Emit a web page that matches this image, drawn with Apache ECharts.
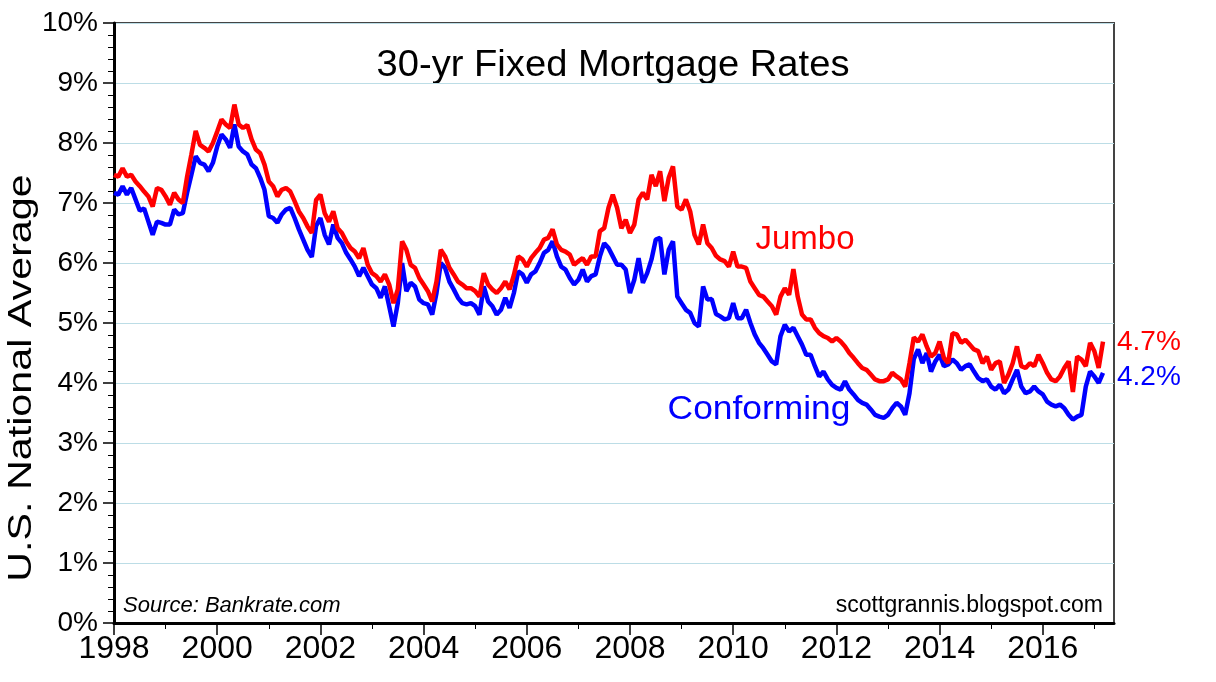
<!DOCTYPE html>
<html><head><meta charset="utf-8">
<script src="https://cdn.jsdelivr.net/npm/echarts@6/dist/echarts.min.js"></script>
<style>html,body{margin:0;padding:0;background:#fff}#c{width:1216px;height:682px}</style>
</head><body><div id="c"></div>
<script>
// Monthly readings, Jan 1998 .. Mar 2017 (percent)
const jumbo = [
7.47,7.44,7.58,7.44,7.47,7.36,7.28,7.19,7.11,6.94,7.25,7.22,
7.11,6.97,7.17,7.06,7.00,7.44,7.81,8.20,7.97,7.92,7.86,8.00,
8.19,8.39,8.31,8.25,8.64,8.31,8.25,8.30,8.06,7.89,7.83,7.64,
7.36,7.28,7.11,7.22,7.25,7.19,7.03,6.86,6.75,6.61,6.50,7.05,
7.14,6.83,6.69,6.86,6.58,6.50,6.36,6.25,6.19,6.08,6.25,5.97,
5.83,5.78,5.69,5.81,5.64,5.33,5.56,6.36,6.22,5.97,5.92,5.75,
5.64,5.53,5.36,5.69,6.22,6.11,5.92,5.81,5.69,5.64,5.58,5.58,
5.53,5.44,5.83,5.64,5.56,5.50,5.58,5.69,5.56,5.80,6.11,6.06,
5.94,6.08,6.17,6.25,6.39,6.42,6.56,6.31,6.22,6.19,6.14,5.97,
6.03,6.08,5.97,6.11,6.11,6.53,6.58,6.92,7.14,6.92,6.58,6.72,
6.50,6.64,7.06,7.17,7.06,7.47,7.28,7.53,7.03,7.42,7.61,6.94,
6.89,7.06,6.86,6.47,6.31,6.64,6.33,6.25,6.12,6.06,6.03,5.94,
6.19,5.94,5.94,5.92,5.69,5.58,5.47,5.44,5.36,5.28,5.14,5.44,
5.58,5.47,5.90,5.44,5.14,5.06,5.06,4.92,4.83,4.78,4.75,4.69,
4.75,4.69,4.61,4.50,4.42,4.33,4.25,4.22,4.14,4.06,4.03,4.03,
4.06,4.17,4.11,4.06,3.94,4.33,4.76,4.69,4.81,4.61,4.44,4.50,
4.69,4.42,4.33,4.83,4.81,4.67,4.72,4.64,4.56,4.53,4.33,4.44,
4.22,4.33,4.36,4.00,4.14,4.33,4.61,4.28,4.25,4.33,4.28,4.47,
4.33,4.17,4.06,4.03,4.11,4.25,4.36,3.85,4.44,4.39,4.28,4.67,
4.53,4.25,4.69
];
const conforming = [
7.17,7.14,7.28,7.14,7.25,7.06,6.87,6.91,6.69,6.47,6.69,6.67,
6.64,6.64,6.89,6.81,6.83,7.17,7.47,7.78,7.67,7.64,7.53,7.67,
7.94,8.14,8.06,7.92,8.31,7.94,7.86,7.81,7.64,7.58,7.42,7.22,
6.78,6.75,6.67,6.81,6.89,6.92,6.75,6.56,6.39,6.22,6.10,6.62,
6.75,6.47,6.31,6.64,6.42,6.33,6.17,6.06,5.94,5.78,5.92,5.78,
5.64,5.58,5.42,5.61,5.28,4.94,5.33,6.00,5.53,5.67,5.61,5.39,
5.33,5.31,5.14,5.50,6.00,5.92,5.69,5.56,5.42,5.33,5.31,5.33,
5.28,5.14,5.61,5.36,5.28,5.14,5.22,5.42,5.25,5.50,5.86,5.81,
5.67,5.81,5.86,6.00,6.17,6.22,6.36,6.11,5.94,5.89,5.75,5.64,
5.72,5.89,5.69,5.78,5.81,6.11,6.33,6.25,6.11,5.97,5.97,5.89,
5.50,5.72,6.08,5.67,5.83,6.06,6.39,6.42,5.81,6.22,6.36,5.44,
5.33,5.22,5.17,5.00,4.94,5.61,5.39,5.40,5.15,5.11,5.06,5.08,
5.33,5.08,5.08,5.22,5.00,4.81,4.67,4.58,4.47,4.36,4.31,4.78,
4.97,4.86,4.92,4.78,4.64,4.47,4.47,4.28,4.11,4.19,4.06,3.97,
3.92,3.89,4.03,3.89,3.81,3.72,3.67,3.64,3.56,3.47,3.44,3.42,
3.47,3.58,3.67,3.61,3.47,3.83,4.40,4.56,4.33,4.50,4.19,4.36,
4.47,4.28,4.31,4.39,4.33,4.22,4.28,4.31,4.19,4.08,4.03,4.06,
3.94,3.89,3.97,3.83,3.89,4.06,4.22,3.94,3.83,3.86,3.94,3.86,
3.81,3.69,3.64,3.61,3.64,3.58,3.47,3.39,3.44,3.47,3.94,4.19,
4.11,4.00,4.17
];
const startYear = 1998;
const majorYears = [1998,2000,2002,2004,2006,2008,2010,2012,2014,2016];
const minorYears = [1999,2001,2003,2005,2007,2009,2011,2013,2015,2017];

const monthX = jumbo.map((_, i) => startYear + i / 12);
const jumboData = jumbo.map((v, i) => [monthX[i], v]);
const confData = conforming.map((v, i) => [monthX[i], v]);

const FONT = 'Liberation Sans';
const chart = echarts.init(document.getElementById('c'), null, {renderer: 'canvas'});
chart.setOption({
  animation: false,
  backgroundColor: '#fff',
  textStyle: {fontFamily: FONT, color: '#000'},
  grid: {left: 114, top: 23, right: 102, bottom: 59, show: true, borderColor: '#444', borderWidth: 2, containLabel: false},
  xAxis: [{
    type: 'value', min: 1998, max: 2017.38, interval: 2,
    axisLine: {show: true, lineStyle: {color: '#000', width: 3}},
    axisTick: {show: true, customValues: majorYears, length: 12, lineStyle: {color: '#000', width: 1.5}},
    axisLabel: {customValues: majorYears, fontSize: 32, color: '#000', margin: 10, fontFamily: FONT, formatter: v => String(Math.round(v))},
    splitLine: {show: false}
  }, {
    type: 'value', min: 1998, max: 2017.38, position: 'top', offset: -600,
    axisLine: {show: false},
    axisTick: {show: true, inside: true, customValues: minorYears, length: 6, lineStyle: {color: '#000', width: 1}},
    axisLabel: {show: false},
    splitLine: {show: false}
  }],
  yAxis: {
    type: 'value', min: 0, max: 10, interval: 1,
    axisLine: {show: true, lineStyle: {color: '#000', width: 3}},
    axisTick: {show: true, length: 11, lineStyle: {color: '#000', width: 1.5}},
    minorTick: {show: true, splitNumber: 5, length: 6, lineStyle: {color: '#000', width: 1}},
    axisLabel: {fontSize: 28, color: '#000', margin: 16, fontFamily: FONT, formatter: '{value}%'},
    splitLine: {show: true, lineStyle: {color: '#bcdde6', width: 1}},
    minorSplitLine: {show: false}
  },
  series: [{
    name: 'Conforming', type: 'line', xAxisIndex: 0, data: confData, showSymbol: false, symbol: 'none',
    lineStyle: {color: '#0000ff', width: 4.5}, itemStyle: {color: '#0000ff'}, silent: true,
    endLabel: {show: true, formatter: p => p.value[1].toFixed(1) + '%', color: '#0000ff', fontSize: 28, fontFamily: FONT, distance: 14, offset: [0, 4]}
  }, {
    name: 'Jumbo', type: 'line', xAxisIndex: 0, data: jumboData, showSymbol: false, symbol: 'none',
    lineStyle: {color: '#ff0000', width: 4.5}, itemStyle: {color: '#ff0000'}, silent: true,
    endLabel: {show: true, formatter: p => p.value[1].toFixed(1) + '%', color: '#ff0000', fontSize: 28, fontFamily: FONT, distance: 14, offset: [0, 1]}
  }],
  graphic: [
    {type: 'text', x: 613, y: 66, scaleX: 1.06, style: {text: '30-yr Fixed Mortgage Rates', fontSize: 36, fontFamily: FONT, fill: '#000', textAlign: 'center', textVerticalAlign: 'middle'}},
    {type: 'text', x: 22, y: 378, rotation: Math.PI / 2, scaleX: 1.25, style: {text: 'U.S. National Average', fontSize: 33, fontFamily: FONT, fill: '#000', textAlign: 'center', textVerticalAlign: 'middle'}},
    {type: 'text', x: 805, y: 240, style: {text: 'Jumbo', fontSize: 33, fontFamily: FONT, fill: '#ff0000', textAlign: 'center', textVerticalAlign: 'middle'}},
    {type: 'text', x: 759, y: 410, scaleX: 1.04, style: {text: 'Conforming', fontSize: 34, fontFamily: FONT, fill: '#0000ff', textAlign: 'center', textVerticalAlign: 'middle'}},
    {type: 'text', x: 123, y: 606, style: {text: 'Source: Bankrate.com', fontSize: 22, fontStyle: 'italic', fontFamily: FONT, fill: '#000', textAlign: 'left', textVerticalAlign: 'middle'}},
    {type: 'text', x: 1103, y: 606, style: {text: 'scottgrannis.blogspot.com', fontSize: 23, fontFamily: FONT, fill: '#000', textAlign: 'right', textVerticalAlign: 'middle'}}
  ]
});
</script>
</body></html>
